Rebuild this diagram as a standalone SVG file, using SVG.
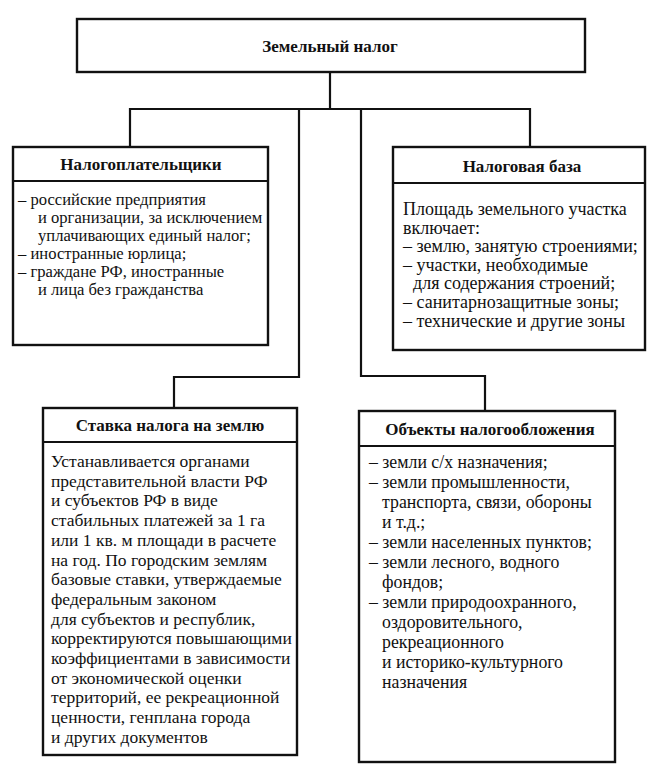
<svg xmlns="http://www.w3.org/2000/svg" width="649" height="776" viewBox="0 0 649 776">
<style>
.box{fill:#fff;stroke:#111;stroke-width:2.4}
.div{stroke:#111;stroke-width:2.2}
.hd{font-family:"Liberation Serif","Times New Roman",serif;font-weight:bold;font-size:17px;fill:#111;text-anchor:middle}
.tx{font-family:"Liberation Serif","Times New Roman",serif;font-size:17px;fill:#111}
.ln{fill:none;stroke:#111;stroke-width:2.2}
</style>
<rect width="649" height="776" fill="#fff"/>
<g id="connectors">
<path class="ln" d="M330 72V109"/>
<path class="ln" d="M130 147V109H530V147"/>
<path class="ln" d="M299 109V377H174V408"/>
<path class="ln" d="M361 109V376H485V411"/>
</g>
<g id="node-root">
<rect class="box" x="77" y="19" width="508" height="53"/>
<text class="hd" x="330" y="52">Земельный налог</text>
</g>
<g id="node-payers" style="font-size:16.6px">
<rect class="box" x="13" y="147" width="255" height="198"/>
<line class="div" x1="13" y1="181" x2="268" y2="181"/>
<text class="hd" x="141" y="170">Налогоплательщики</text>
<text class="tx" x="18" y="205" style="font-size:16.6px">– российские предприятия</text>
<text class="tx" x="38" y="223" style="font-size:16.6px">и организации, за исключением</text>
<text class="tx" x="38" y="241" style="font-size:16.6px">уплачивающих единый налог;</text>
<text class="tx" x="18" y="259" style="font-size:16.6px">– иностранные юрлица;</text>
<text class="tx" x="18" y="277" style="font-size:16.6px">– граждане РФ, иностранные</text>
<text class="tx" x="38" y="295" style="font-size:16.6px">и лица без гражданства</text>
</g>
<g id="node-base">
<rect class="box" x="393" y="147" width="252" height="203"/>
<line class="div" x1="393" y1="183" x2="645" y2="183"/>
<text class="hd" x="522" y="172">Налоговая база</text>
<text class="tx" x="403" y="215" style="font-size:18px">Площадь земельного участка</text>
<text class="tx" x="403" y="233.6" style="font-size:18px">включает:</text>
<text class="tx" x="403" y="252.2" style="font-size:18px">– землю, занятую строениями;</text>
<text class="tx" x="403" y="270.8" style="font-size:18px">– участки, необходимые</text>
<text class="tx" x="413" y="289.4" style="font-size:18px">для содержания строений;</text>
<text class="tx" x="403" y="308" style="font-size:18px">– санитарнозащитные зоны;</text>
<text class="tx" x="403" y="326.6" style="font-size:18px">– технические и другие зоны</text>
</g>
<g id="node-rate">
<rect class="box" x="43" y="408" width="254" height="347"/>
<line class="div" x1="43" y1="442" x2="297" y2="442"/>
<text class="hd" x="170" y="431">Ставка налога на землю</text>
<g style="font-size:17.5px">
<text class="tx" x="51" y="467" style="font-size:17.5px">Устанавливается органами</text>
<text class="tx" x="51" y="486.7" style="font-size:17.5px">представительной власти РФ</text>
<text class="tx" x="51" y="506.4" style="font-size:17.5px">и субъектов РФ в виде</text>
<text class="tx" x="51" y="526.1" style="font-size:17.5px">стабильных платежей за 1 га</text>
<text class="tx" x="51" y="545.8" style="font-size:17.5px">или 1 кв. м площади в расчете</text>
<text class="tx" x="51" y="565.5" style="font-size:17.5px">на год. По городским землям</text>
<text class="tx" x="51" y="585.2" style="font-size:17.5px">базовые ставки, утверждаемые</text>
<text class="tx" x="51" y="604.9" style="font-size:17.5px">федеральным законом</text>
<text class="tx" x="51" y="624.6" style="font-size:17.5px">для субъектов и республик,</text>
<text class="tx" x="51" y="644.3" style="font-size:17.5px">корректируются повышающими</text>
<text class="tx" x="51" y="664" style="font-size:17.5px">коэффициентами в зависимости</text>
<text class="tx" x="51" y="683.7" style="font-size:17.5px">от экономической оценки</text>
<text class="tx" x="51" y="703.4" style="font-size:17.5px">территорий, ее рекреационной</text>
<text class="tx" x="51" y="723.1" style="font-size:17.5px">ценности, генплана города</text>
<text class="tx" x="51" y="742.8" style="font-size:17.5px">и других документов</text>
</g>
</g>
<g id="node-objects">
<rect class="box" x="359" y="411" width="256" height="351"/>
<line class="div" x1="359" y1="446" x2="615" y2="446"/>
<text class="hd" x="490" y="435">Объекты налогообложения</text>
<text class="tx" x="369" y="468" style="font-size:17.8px">– земли с/х назначения;</text>
<text class="tx" x="369" y="488" style="font-size:17.8px">– земли промышленности,</text>
<text class="tx" x="382" y="508" style="font-size:17.8px">транспорта, связи, обороны</text>
<text class="tx" x="382" y="528" style="font-size:17.8px">и т.д.;</text>
<text class="tx" x="369" y="548" style="font-size:17.8px">– земли населенных пунктов;</text>
<text class="tx" x="369" y="568" style="font-size:17.8px">– земли лесного, водного</text>
<text class="tx" x="382" y="588" style="font-size:17.8px">фондов;</text>
<text class="tx" x="369" y="608" style="font-size:17.8px">– земли природоохранного,</text>
<text class="tx" x="382" y="628" style="font-size:17.8px">оздоровительного,</text>
<text class="tx" x="382" y="648" style="font-size:17.8px">рекреационного</text>
<text class="tx" x="382" y="668" style="font-size:17.8px">и историко-культурного</text>
<text class="tx" x="382" y="688" style="font-size:17.8px">назначения</text>
</g>
</svg>
